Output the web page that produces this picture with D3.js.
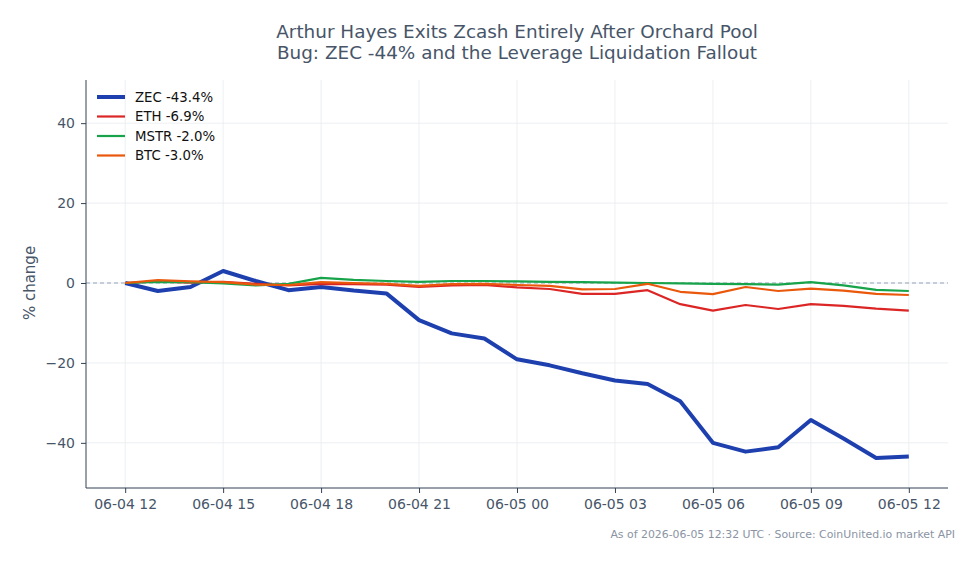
<!DOCTYPE html>
<html>
<head>
<meta charset="utf-8">
<script src="https://cdn.jsdelivr.net/npm/d3@7"></script>
<style>
  body { margin: 0; background: #fff; }
  text { font-family: "DejaVu Sans", sans-serif; }
</style>
</head>
<body>
<script>
// hourly points, 06-04 12:00 to 06-05 12:00 UTC
var startTime = "2026-06-04 12:00";
var hours = d3.range(25);

var zec  = [0, -2.0, -1.0, 3.0, 0.5, -1.8, -1.0, -1.9, -2.6, -9.3, -12.6, -13.9, -19.1, -20.6, -22.6, -24.4, -25.3, -29.6, -40.0, -42.2, -41.1, -34.3, -38.9, -43.8, -43.4];
var eth  = [0, 0.4, 0.1, 0.3, -0.2, -0.6, -0.2, -0.3, -0.4, -1.0, -0.6, -0.5, -1.1, -1.5, -2.7, -2.7, -1.8, -5.3, -6.9, -5.5, -6.5, -5.3, -5.7, -6.4, -6.9];
var mstr = [0, 0.3, 0.2, -0.1, -0.6, -0.2, 1.3, 0.8, 0.5, 0.3, 0.5, 0.5, 0.4, 0.3, 0.2, 0.1, 0, -0.1, -0.2, -0.3, -0.4, 0.2, -0.6, -1.7, -2.0];
var btc  = [0, 0.7, 0.4, 0.2, -0.4, -0.5, 0.2, 0, -0.2, -0.7, -0.3, -0.2, -0.5, -0.7, -1.6, -1.5, -0.2, -2.2, -2.8, -1.0, -2.0, -1.4, -1.9, -2.7, -3.0];

var seriesNames = ["ZEC -43.4%", "ETH -6.9%", "MSTR -2.0%", "BTC -3.0%"];
var seriesColors = ["#1e40af", "#dc2626", "#16a34a", "#ea580c"];
var seriesWidths = [4, 2.2, 2.2, 2.2];
var seriesData = [zec, eth, mstr, btc];

var yTicks = [-40, -20, 0, 20, 40];

var W = 979, H = 564;
var margin = {top: 80, right: 31, bottom: 76, left: 86};
var width = W - margin.left - margin.right,
    height = H - margin.top - margin.bottom;

var parse = d3.timeParse("%Y-%m-%d %H:%M");
var t0 = parse(startTime);
var times = hours.map(function(h) { return d3.timeHour.offset(t0, h); });

var x = d3.scaleUtc()
  .domain([d3.timeMinute.offset(t0, -72), d3.timeMinute.offset(t0, 24 * 60 + 72)])
  .range([0, width]);
var y = d3.scaleLinear().domain([-51.3, 50.8]).range([height, 0]);

var svg = d3.select("body").append("svg")
  .attr("width", W).attr("height", H);

svg.append("text")
  .attr("x", margin.left + width / 2).attr("y", 38)
  .attr("text-anchor", "middle").attr("fill", "#475569").style("font-size", "18.4px")
  .text("Arthur Hayes Exits Zcash Entirely After Orchard Pool");
svg.append("text")
  .attr("x", margin.left + width / 2).attr("y", 59)
  .attr("text-anchor", "middle").attr("fill", "#475569").style("font-size", "18.4px")
  .text("Bug: ZEC -44% and the Leverage Liquidation Fallout");

var g = svg.append("g").attr("transform", "translate(" + margin.left + "," + margin.top + ")");

var xTicks = d3.range(0, 25, 3).map(function(h) { return d3.timeHour.offset(t0, h); });
var fmt = d3.utcFormat("%m-%d %H");

// grid
g.selectAll(".gx").data(xTicks).enter().append("line")
  .attr("x1", function(d) { return x(d); }).attr("x2", function(d) { return x(d); })
  .attr("y1", 0).attr("y2", height)
  .attr("stroke", "#e8ebef").attr("stroke-width", 0.8);
g.selectAll(".gy").data(yTicks).enter().append("line")
  .attr("x1", 0).attr("x2", width)
  .attr("y1", function(d) { return y(d); }).attr("y2", function(d) { return y(d); })
  .attr("stroke", "#e8ebef").attr("stroke-width", 0.8);

// zero line
g.append("line")
  .attr("x1", 0).attr("x2", width).attr("y1", y(0)).attr("y2", y(0))
  .attr("stroke", "#94a3b8").attr("stroke-width", 1).attr("stroke-dasharray", "4,3");

var line = d3.line()
  .x(function(d, i) { return x(times[i]); })
  .y(function(d) { return y(d); });

seriesData.forEach(function(s, k) {
  g.append("path")
    .datum(s)
    .attr("fill", "none")
    .attr("stroke", seriesColors[k])
    .attr("stroke-width", seriesWidths[k])
    .attr("stroke-linejoin", "round")
    .attr("d", line);
});

// axes
var xAxis = g.append("g")
  .attr("transform", "translate(0," + height + ")")
  .call(d3.axisBottom(x).tickValues(xTicks).tickFormat(fmt).tickSize(5).tickPadding(6));
var yAxis = g.append("g")
  .call(d3.axisLeft(y).tickValues(yTicks).tickFormat(function(d) { return d < 0 ? "\u2212" + Math.abs(d) : d; }).tickSize(5).tickPadding(6));

[xAxis, yAxis].forEach(function(a) {
  a.select(".domain").attr("stroke", "#334155").attr("stroke-width", 1);
  a.selectAll(".tick line").attr("stroke", "#334155");
  a.selectAll(".tick text").attr("fill", "#475569").style("font-size", "14px")
    .style("font-family", "DejaVu Sans, sans-serif");
});
xAxis.select(".domain").attr("d", "M0,0H" + width);
yAxis.select(".domain").attr("d", "M0," + height + "V0");

svg.append("text")
  .attr("transform", "translate(35," + (margin.top + y(0)) + ") rotate(-90)")
  .attr("text-anchor", "middle").attr("fill", "#475569").style("font-size", "15px")
  .text("% change");

// legend
var legend = g.append("g").attr("transform", "translate(11,17)");
seriesNames.forEach(function(n, k) {
  var row = legend.append("g").attr("transform", "translate(0," + (k * 19.5) + ")");
  row.append("line").attr("x1", 0).attr("x2", 28).attr("y1", 0).attr("y2", 0)
    .attr("stroke", seriesColors[k]).attr("stroke-width", seriesWidths[k]);
  row.append("text").attr("x", 38).attr("y", 4.5)
    .attr("fill", "#111").style("font-size", "13.3px").text(n);
});

svg.append("text")
  .attr("x", 955).attr("y", 538)
  .attr("text-anchor", "end").attr("fill", "#8a94a3").style("font-size", "10.9px")
  .text("As of 2026-06-05 12:32 UTC \u00b7 Source: CoinUnited.io market API");
</script>
</body>
</html>
